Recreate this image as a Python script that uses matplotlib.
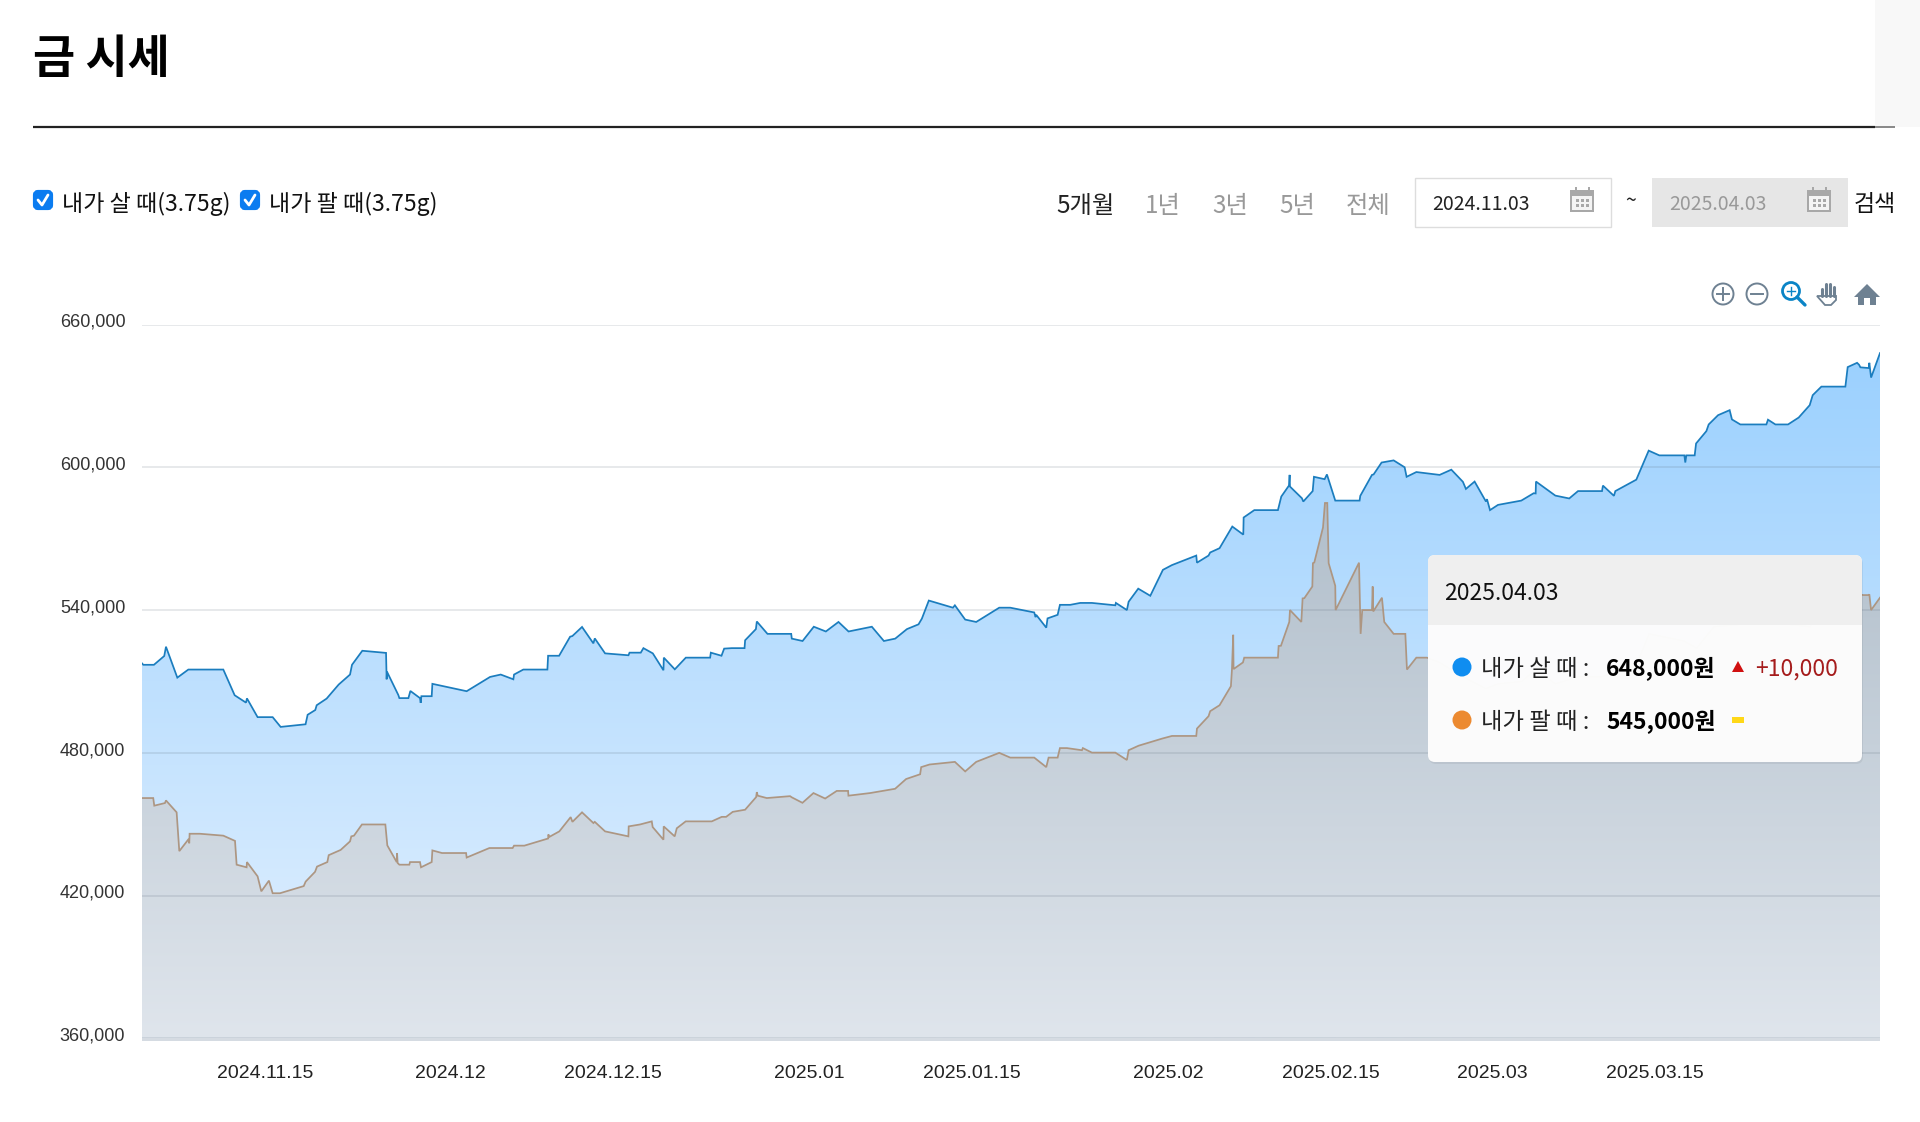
import numpy as np
import matplotlib
matplotlib.use('Agg')
import matplotlib.pyplot as plt
import matplotlib.dates as mdates
from matplotlib.patches import FancyBboxPatch, Rectangle, Circle, Polygon
from matplotlib.transforms import ScaledTranslation

plt.rcParams['font.family'] = ['Noto Sans CJK KR', 'DejaVu Sans']

# days after 2024-11-01 and price in thousand won
buy_days = [3.38, 3.49, 4.41, 5.3, 5.45, 6.43, 7.38, 10.4, 11.38, 12.36, 12.44, 13.36, 14.66, 15.35, 17.5, 17.68,
            18.34, 18.46, 19.32, 20.36, 21.34, 21.51, 22.4, 24.45, 24.5, 24.53, 25.51, 25.6, 26.38, 26.55, 27.38,
            27.44, 27.5, 28.39, 28.45, 31.41, 33.43, 34.35, 35.44, 35.5, 36.3, 38.38, 38.44, 39.39, 40.34, 40.54,
            41.37, 42.35, 42.47, 43.36, 45.38, 45.47, 46.44, 46.67, 47.48, 48.4, 48.43, 49.38, 50.33, 52.43, 52.49,
            53.41, 53.64, 54.3, 55.4, 55.45, 56.38, 56.46, 57.38, 59.43, 59.48, 60.41, 61.38, 62.42, 63.51, 64.38,
            66.39, 67.43, 68.41, 69.42, 70.42, 70.71, 71.31, 73.39, 73.56, 74.45, 75.4, 77.39, 78.34, 80.41, 80.53,
            80.58, 81.45, 81.56, 82.43, 82.63, 83.52, 84.38, 85.39, 87.41, 87.46, 88.41, 88.56, 89.39, 90.43, 91.52,
            92.3, 94.4, 94.46, 95.46, 95.6, 96.41, 97.51, 98.46, 98.49, 99.41, 101.45, 101.74, 102.4, 102.46, 102.49,
            103.52, 103.64, 104.45, 104.56, 105.48, 105.68, 106.4, 108.5, 108.56, 109.57, 109.71, 110.4, 111.44,
            112.39, 112.56, 113.4, 115.41, 116.42, 117.42, 117.68, 118.43, 119.41, 119.5, 119.76, 120.45, 122.46,
            123.53, 123.7, 123.73, 125.4, 126.6, 127.36, 129.43, 129.51, 130.46, 130.58, 132.39, 133.46, 134.38,
            136.54, 136.62, 136.71, 137.43, 137.55, 138.44, 138.64, 139.45, 140.45, 140.65, 141.37, 143.62, 143.76,
            144.4, 145.49, 146.41, 147.36, 147.62, 148.37, 150.44, 150.64, 151.45, 151.62, 151.74, 152.46, 152.51,
            152.66, 153.43]
buy_values = [517.6, 517, 517, 520.7, 524.6, 511.6, 515, 515, 504.2, 501.1, 502.9, 495, 495, 490.9, 492, 496,
              498, 500, 502.8, 508.7, 512.9, 517, 522.9, 522, 510.9, 514.1, 504.3, 503, 503, 506, 503,
              501, 503.8, 503.8, 509, 505.9, 511.9, 512.9, 510.9, 512.9, 515, 515, 520.8, 520.8, 528.8, 529.1,
              532.9, 526, 528.1, 521.8, 521, 522.1, 522.1, 524, 521.8, 514.7, 520, 515.1, 520, 520, 522.1,
              520.8, 523.8, 524, 524, 527.3, 532, 535.2, 530, 530, 528, 527, 533, 531, 535, 531,
              533, 527, 528, 532, 534, 536.4, 544, 541, 542, 536, 535, 541, 541, 539, 537,
              538, 532.6, 536.5, 538, 542.2, 542.2, 543, 543, 542, 543, 540, 543.5, 549, 546, 556.9,
              558.9, 562.9, 559.9, 562.9, 564.2, 566, 575.1, 571.7, 578.9, 582, 582, 587.7, 592.3, 596.8, 591.9,
              587, 585.6, 590, 596, 595, 597, 586, 586, 588, 596.8, 597, 602, 602.9,
              600, 596, 598, 596.8, 599, 593.9, 590.9, 594, 585.6, 586.6, 582, 584.2, 586,
              589.1, 589, 594, 588.1, 586.9, 590, 590, 592.3, 588, 590, 594.8, 607, 605,
              605, 602, 605, 605, 610, 615.2, 618, 621.9, 624, 620.1, 618, 618, 620,
              618, 618, 620.9, 626.1, 630.3, 633.9, 633.9, 642.1, 643.9, 643.1, 642, 641.7, 643.9,
              637.7, 648]

sell_days = [3.38, 4.35, 4.44, 5.36, 5.45, 6.37, 6.6, 7.41, 7.46, 7.49, 8.38, 10.4, 11.41, 11.55, 12.41, 12.44,
             13.36, 13.68, 14.34, 14.66, 15.29, 17.34, 17.51, 18.32, 18.49, 19.38, 19.5, 20.53, 21.34, 21.45, 21.68,
             22.37, 24.39, 24.56, 25.37, 25.4, 25.45, 25.6, 26.46, 26.52, 27.38, 27.47, 28.39, 28.45, 29.28, 31.36,
             31.41, 33.37, 35.38, 35.5, 36.39, 38.44, 38.47, 38.52, 39.41, 40.39, 40.54, 41.37, 42.35, 42.47, 43.36,
             45.37, 45.4, 46.38, 47.39, 47.47, 48.4, 48.42, 49.37, 49.55, 50.32, 52.57, 53.43, 53.81, 54.38, 55.45,
             56.4, 56.46, 56.54, 57.32, 59.33, 59.48, 60.4, 61.35, 62.36, 63.36, 64.34, 64.37, 66.24, 68.4, 69.35,
             70.56, 70.65, 71.37, 73.56, 74.45, 75.4, 77.39, 78.34, 80.41, 81.45, 81.65, 82.43, 82.63, 83.23, 84.53,
             84.61, 85.39, 87.41, 88.41, 88.56, 89.42, 91.46, 92.3, 94.4, 94.46, 95.46, 95.6, 96.41, 97.39, 97.48,
             97.59, 97.62, 98.43, 98.54, 101.45, 101.51, 101.71, 102.43, 102.49, 103.47, 103.58, 103.73, 104.42,
             104.47, 104.59, 105.34, 105.51, 105.71, 105.83, 106.4, 106.43, 108.45, 108.59, 108.73, 109.57, 109.63,
             109.68, 110.43, 110.63, 111.44, 112.45, 112.59, 113.4, 114.32, 115.4, 117.4, 119.4, 120.45, 122.5,
             123.7, 125.4, 127.4, 129.4, 132.4, 133.5, 136.5, 137.6, 139.1, 141.4, 145.5, 147.4, 148.4, 150.4,
             150.6, 152.02, 152.46, 152.51, 152.66, 153.43]
sell_values = [461, 461, 457.8, 458.9, 460, 455, 438.7, 443.8, 442, 446, 446, 445.2, 443, 433, 431.9, 434.1,
               428.1, 421.8, 426.3, 421, 421, 424, 425.9, 430, 432.2, 434.1, 437, 439.2, 442.8, 444.9, 445.2,
               449.9, 449.9, 441.1, 434.1, 437.9, 433.7, 433, 433, 434.1, 434.1, 431.9, 434.1, 439, 437.9, 437.9,
               436, 440, 440, 441, 441, 444, 445.7, 444.6, 447, 453, 451, 455, 450.5, 451, 447,
               444.9, 449.1, 449.9, 451.2, 448.8, 443.5, 449.1, 444.9, 448.3, 451.2, 451.2, 453.1, 453.1, 455.2, 456.1,
               461.4, 463.5, 462, 461, 461.8, 461.3, 459, 463.1, 460.8, 464, 464, 462, 463.1, 464.9, 469,
               471, 474, 475.1, 476.2, 472.2, 476.2, 480, 478, 478, 474, 478, 478, 482, 482, 481.1,
               482, 480.1, 480.1, 477, 481.1, 483, 486, 487.1, 487.1, 490.2, 495.4, 497.5, 500, 508, 515,
               529.6, 515.2, 518, 520, 520, 524.9, 525, 535, 540, 535, 544.9, 545, 549.9,
               559.7, 560, 574.7, 585, 585, 559.7, 550.2, 540, 559.9, 530, 540, 540, 549.9,
               539.4, 545.2, 535, 530, 530, 515, 520, 520, 518, 512, 507, 509, 510,
               515, 509, 512, 512, 517, 530, 527, 524, 533, 534, 534, 533, 541, 541,
               547, 546.3, 546.3, 546.6, 540, 545.2]

y_ticks = [360, 420, 480, 540, 600, 660]
y_labels = ['360,000', '420,000', '480,000', '540,000', '600,000', '660,000']
x_tick_dates = ['2024-11-15', '2024-12-01', '2024-12-15', '2025-01-01', '2025-01-15',
                '2025-02-01', '2025-02-15', '2025-03-01', '2025-03-15']
x_labels = ['2024.11.15', '2024.12', '2024.12.15', '2025.01', '2025.01.15',
            '2025.02', '2025.02.15', '2025.03', '2025.03.15']
period_labels = ['5개월', '1년', '3년', '5년', '전체']

W, H = 1920, 1122
KR = ['Noto Sans CJK KR', 'DejaVu Sans']
LAT = ['Liberation Sans', 'DejaVu Sans']

fig = plt.figure(figsize=(W / 100, H / 100), dpi=100, facecolor='white')

# chart
ax = fig.add_axes([142 / W, (H - 1038.4) / H, 1738 / W, 713.9 / H])
origin = mdates.date2num(np.datetime64('2024-11-01'))
buy_x = origin + np.array(buy_days)
sell_x = origin + np.array(sell_days)
buy_y = np.array(buy_values)
sell_y = np.array(sell_values)
x0, x1 = buy_x[0], buy_x[-1]


def gradient_area(x, y, top, bottom):
    top = np.array(matplotlib.colors.to_rgb(top))
    bottom = np.array(matplotlib.colors.to_rgb(bottom))
    t = np.linspace(0, 1, 256)[:, None, None]
    grad = top[None, None, :] * (1 - t) + bottom[None, None, :] * t
    im = ax.imshow(grad, extent=[x0, x1, 360, 660], aspect='auto', origin='upper', zorder=0)
    poly = ax.fill_between(x, y, 360, facecolor='none', edgecolor='none')
    im.set_clip_path(poly.get_paths()[0], transform=ax.transData)


gradient_area(buy_x, buy_y, '#98cffe', '#e4f1ff')
gradient_area(sell_x, sell_y, '#a2b2c0', '#dfe5ec')
ax.plot(buy_x, buy_y, color='#1b7dbe', lw=1.25, zorder=2, solid_joinstyle='miter')
ax.plot(sell_x, sell_y, color='#ad9682', lw=1.25, zorder=2.1, solid_joinstyle='miter')

ax.set_xlim(x0, x1)
ax.set_ylim(360, 660)
ax.set_yticks(y_ticks)
ax.set_yticklabels(y_labels, fontfamily=LAT, fontsize=13, color='#333333')
ax.set_xticks(mdates.date2num(np.array(x_tick_dates, dtype='datetime64[D]')))
ax.set_xticklabels(x_labels, fontfamily=LAT, fontsize=14, color='#222222')
ax.tick_params(axis='both', length=0)
ax.tick_params(axis='y', pad=12)
ax.tick_params(axis='x', pad=19)
for lab in ax.get_yticklabels():
    lab.set_transform(lab.get_transform() + ScaledTranslation(0, 3 / 72, fig.dpi_scale_trans))
ax.grid(axis='y', color='#5a6a78', alpha=0.16, lw=1.3)
ax.set_axisbelow('line')
for s in ax.spines.values():
    s.set_visible(False)

# page furniture drawn in pixel coordinates
ui = fig.add_axes([0, 0, 1, 1], facecolor='none')
ui.set_xlim(0, W)
ui.set_ylim(H, 0)
ui.axis('off')

ui.add_patch(Rectangle((142, 1038.4), 1738, 2.6, fc='#d5dbe2', ec='none'))
ui.add_patch(Rectangle((1875, 0), 45, 127, fc='#f8f8f8', ec='none'))
ui.plot([33, 1875], [126.5, 126.5], color='#222222', lw=1.6, solid_capstyle='butt')
ui.plot([1875, 1895], [127, 127], color='#888888', lw=1.4, solid_capstyle='butt')
ui.text(33, 60, '금 시세', fontfamily=KR, fontsize=33, fontweight='bold', color='black', va='center', ha='left')


def checkbox(x, y):
    ui.add_patch(FancyBboxPatch((x + 2, y + 2), 16, 16, boxstyle='round,pad=0,rounding_size=3',
                                fc='#0b7cf0', ec='#0b7cf0', lw=3))
    ui.plot([x + 5, x + 9, x + 15], [y + 10, y + 15, y + 5], color='white', lw=2, solid_capstyle='round')


checkbox(33, 190)
checkbox(240, 190)
ui.text(62, 204, '내가 살 때(3.75g)', fontfamily=KR, fontsize=16.6, color='#111111', va='center')
ui.text(269, 204, '내가 팔 때(3.75g)', fontfamily=KR, fontsize=16.6, color='#111111', va='center')

period_x = [1056, 1145, 1212, 1279, 1346]
for i, (px, lab) in enumerate(zip(period_x, period_labels)):
    ui.text(px, 206, lab, fontfamily=KR, fontsize=17.5, color='#222222' if i == 0 else '#999999', va='center')


def calendar(cx, cy):
    ui.add_patch(Rectangle((cx - 12, cy - 10), 24, 22, fc='#a8a8a8', ec='none'))
    ui.add_patch(Rectangle((cx - 10, cy - 4), 20, 14, fc='#f4f4f4', ec='none'))
    for dx in (-7, 6):
        ui.add_patch(Rectangle((cx + dx, cy - 13), 2, 5, fc='#a8a8a8', ec='none'))
    for dx in (-6, -1, 4):
        for dy in (-1, 4):
            ui.add_patch(Rectangle((cx + dx, cy + dy), 3, 3, fc='#a8a8a8', ec='none'))


ui.add_patch(Rectangle((1414.5, 178), 196, 49, fc='white', ec='#dddddd', lw=1))
ui.text(1432, 204, '2024.11.03', fontfamily=KR, fontsize=14, color='#222222', va='center')
calendar(1582, 200)
ui.text(1631, 201, '~', fontfamily=KR, fontsize=14, color='#222222', va='center', ha='center')
ui.add_patch(Rectangle((1652, 178), 196, 49, fc='#e6e6e6', ec='none'))
ui.text(1669, 204, '2025.04.03', fontfamily=KR, fontsize=14, color='#999999', va='center')
calendar(1819, 200)
ui.text(1854, 204, '검색', fontfamily=KR, fontsize=16.5, color='#111111', va='center')

# chart toolbar
icon = '#6e8192'
for cx in (1723, 1757):
    ui.add_patch(Circle((cx, 294), 10.5, fc='none', ec=icon, lw=1.4))
    ui.plot([cx - 6, cx + 6], [294, 294], color=icon, lw=1.4)
ui.plot([1723, 1723], [288, 300], color=icon, lw=1.4)
ui.add_patch(Circle((1791, 291), 8.5, fc='none', ec='#0a84c6', lw=2))
ui.plot([1797, 1805], [297, 305], color='#0a84c6', lw=2.4, solid_capstyle='round')
ui.plot([1787, 1795], [291, 291], color='#0a84c6', lw=1)
ui.plot([1791, 1791], [287, 295], color='#0a84c6', lw=1)
for dx, top in zip((1822, 1826, 1830, 1834), (289, 284, 284, 287)):
    ui.plot([dx, dx], [top, 296], color=icon, lw=2.2, solid_capstyle='round')
ui.add_patch(Polygon([(1820, 296), (1836, 296), (1836, 300), (1831, 305), (1825, 305), (1817, 296)],
                     fc='white', ec=icon, lw=1.3))
ui.add_patch(Polygon([(1867, 284), (1880, 297), (1876, 297), (1876, 305), (1870, 305), (1870, 298), (1864, 298),
                      (1864, 305), (1858, 305), (1858, 297), (1854, 297)], fc=icon, ec='none'))

# tooltip
ui.add_patch(FancyBboxPatch((1429, 557), 434, 207, boxstyle='round,pad=0,rounding_size=7',
                            fc='black', ec='none', alpha=0.06))
ui.add_patch(FancyBboxPatch((1428, 555), 434, 207, boxstyle='round,pad=0,rounding_size=7',
                            fc='#fdfdfd', ec='none', alpha=0.98))
head = FancyBboxPatch((1428, 555), 434, 207, boxstyle='round,pad=0,rounding_size=7', fc='#efefef', ec='none')
ui.add_patch(head)
head.set_clip_path(Rectangle((1420, 550), 450, 74.5, transform=ui.transData))
ui.text(1444, 593, '2025.04.03', fontfamily=KR, fontsize=16.5, color='#111111', va='center')

ui.add_patch(Circle((1462, 667), 9.5, fc='#0f8df0', ec='none'))
ui.add_patch(Circle((1462, 720), 9.5, fc='#ec8a30', ec='none'))
ui.text(1481, 669, '내가 살 때 :', fontfamily=KR, fontsize=16.8, color='#222222', va='center')
ui.text(1481, 722, '내가 팔 때 :', fontfamily=KR, fontsize=16.8, color='#222222', va='center')
ui.text(1606, 669, '648,000원', fontfamily=KR, fontsize=16.5, fontweight='bold', color='black', va='center')
ui.text(1606, 722, '545,000원', fontfamily=KR, fontsize=16.5, fontweight='bold', color='black', va='center')
ui.add_patch(Polygon([(1738, 661), (1744, 672), (1732, 672)], fc='#d01010', ec='none'))
ui.text(1755, 669, '+10,000', fontfamily=KR, fontsize=16.5, color='#a51c1c', va='center')
ui.add_patch(Rectangle((1732, 717), 12, 6, fc='#ffd818', ec='none'))

fig.savefig('out.png', dpi=100, facecolor='white')
